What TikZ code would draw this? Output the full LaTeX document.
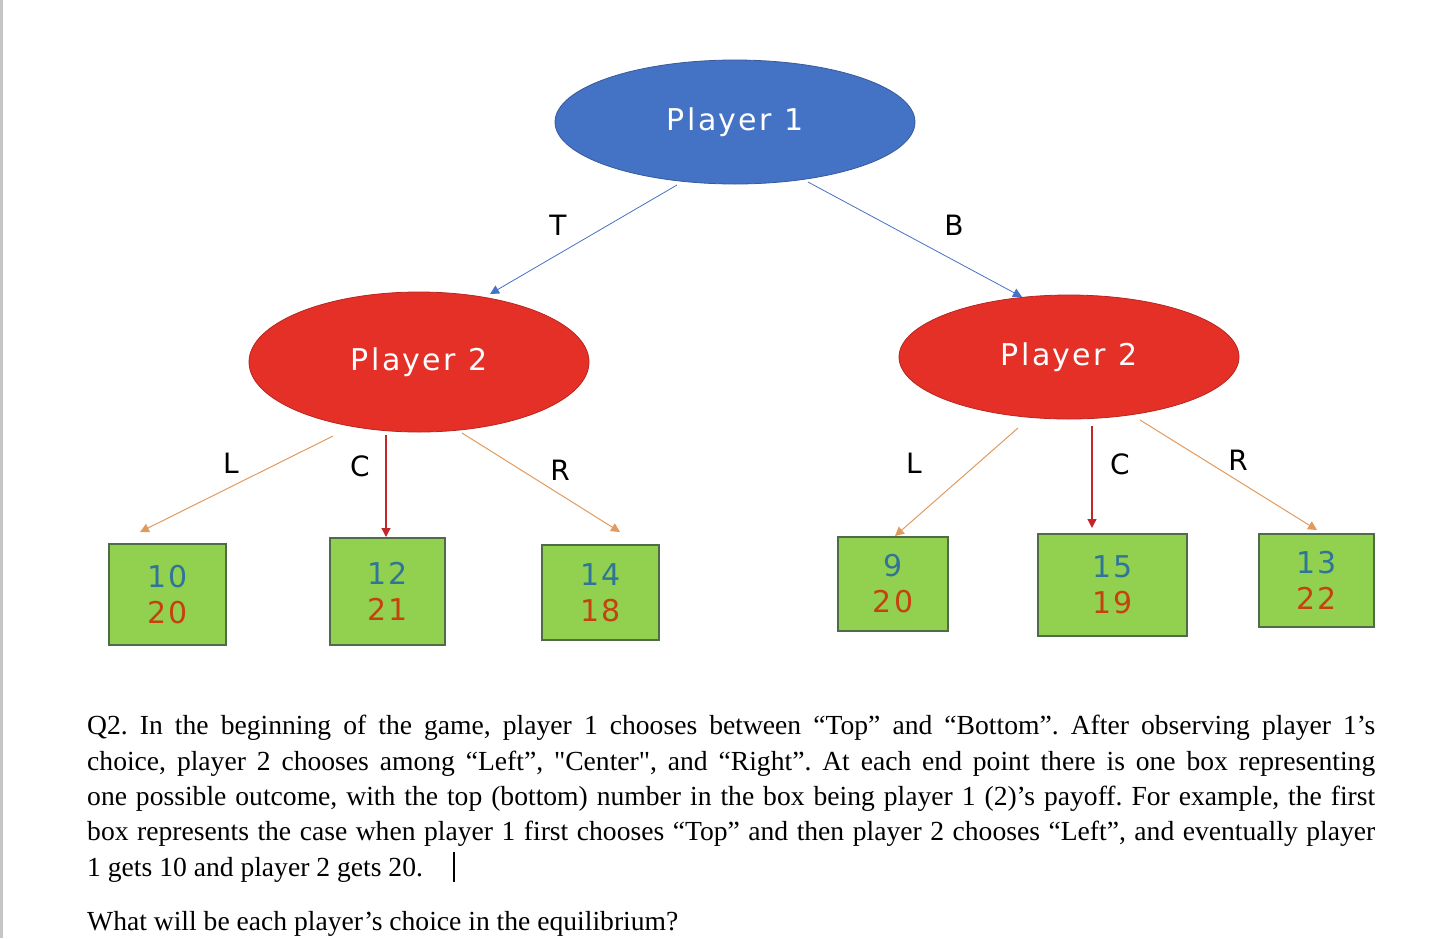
\documentclass[tikz,border=0pt]{standalone}
\usepackage{fontspec}
\setmainfont{Liberation Serif}
\newfontfamily\lab[LetterSpace=8]{DejaVu Sans}
\usetikzlibrary{shapes.geometric,arrows.meta}
\definecolor{pblue}{HTML}{4472C4}
\definecolor{pred}{HTML}{E53027}
\definecolor{bgreen}{HTML}{92D050}
\definecolor{bedge}{HTML}{4F6B48}
\definecolor{ntop}{HTML}{2F7597}
\definecolor{nbot}{HTML}{C5420F}
\definecolor{aor}{HTML}{E09A5E}
\definecolor{adred}{HTML}{C0262A}
\begin{document}
\frenchspacing
\begin{tikzpicture}[x=1pt,y=-1pt,
  pnode/.style={ellipse,draw=#1!80!black,line width=0.8pt,fill=#1,text=white,font=\lab\fontsize{30}{30}\selectfont},
  pay/.style={draw=bedge,line width=1.5pt,fill=bgreen,inner sep=0pt,font=\lab\fontsize{30}{40}\selectfont,align=center},
  ar/.style={-{Triangle[length=9pt,width=9pt]},line width=1pt,draw=#1},
  lb/.style={font=\lab\fontsize{28}{28}\selectfont},
  tx/.style={anchor=base west,inner sep=0pt,font=\fontsize{27.6}{30}\selectfont}]
\useasboundingbox (0,0) rectangle (1456,938);
\fill[gray!45] (0,0) rectangle (2.5,938);
\node[pnode=pblue,minimum width=360pt,minimum height=124pt] (p1) at (735,122) {Player 1};
\node[pnode=pred,minimum width=340pt,minimum height=140pt] (p2l) at (419,362) {Player 2};
\node[pnode=pred,minimum width=340pt,minimum height=124pt] (p2r) at (1069,357) {Player 2};
\node[pay,minimum width=117pt,minimum height=101pt] (b1) at (167.5,594.5) {\textcolor{ntop}{10}\\[-4pt]\textcolor{nbot}{20}};
\node[pay,minimum width=115pt,minimum height=107pt] (b2) at (387.5,591.5) {\textcolor{ntop}{12}\\[-4pt]\textcolor{nbot}{21}};
\node[pay,minimum width=117pt,minimum height=95pt] (b3) at (600.5,592.5) {\textcolor{ntop}{14}\\[-4pt]\textcolor{nbot}{18}};
\node[pay,minimum width=110pt,minimum height=94pt] (b4) at (893,584) {\textcolor{ntop}{9}\\[-4pt]\textcolor{nbot}{20}};
\node[pay,minimum width=149pt,minimum height=102pt] (b5) at (1112.5,585) {\textcolor{ntop}{15}\\[-4pt]\textcolor{nbot}{19}};
\node[pay,minimum width=115pt,minimum height=93pt] (b6) at (1316.5,580.5) {\textcolor{ntop}{13}\\[-4pt]\textcolor{nbot}{22}};
\coordinate (st1) at (677,185); \coordinate (st2) at (808,182);
\coordinate (sl1) at (333,436); \coordinate (sl2) at (386,435); \coordinate (sl3) at (462,433);
\coordinate (sr1) at (1018,428); \coordinate (sr2) at (1092,426); \coordinate (sr3) at (1140,420);
\coordinate (t1) at (490,294); \coordinate (t2) at (1022,297);
\coordinate (l1) at (140,532); \coordinate (l2) at (386,537); \coordinate (l3) at (620,532);
\coordinate (r1) at (895,536); \coordinate (r2) at (1092,528); \coordinate (r3) at (1317,530);
\draw[ar=pblue,line width=0.8pt] (st1) -- (t1);
\draw[ar=pblue,line width=0.8pt] (st2) -- (t2);
\draw[ar=aor] (sl1) -- (l1);
\draw[ar=adred,line width=1.3pt] (sl2) -- (l2);
\draw[ar=aor] (sl3) -- (l3);
\draw[ar=aor] (sr1) -- (r1);
\draw[ar=adred,line width=1.3pt] (sr2) -- (r2);
\draw[ar=aor] (sr3) -- (r3);
\node[lb] (lT) at (558,225) {T};
\node[lb] (lB) at (954,225) {B};
\node[lb] (lL1) at (231,463) {L};
\node[lb] (lC1) at (360,466) {C};
\node[lb] (lR1) at (560,470) {R};
\node[lb] (lL2) at (914,463) {L};
\node[lb] (lC2) at (1120,464) {C};
\node[lb] (lR2) at (1238,460) {R};
\node[tx] (q1) at (87,734) {\makebox[1288pt][s]{Q2. In the beginning of the game, player 1 chooses between “Top” and “Bottom”. After observing player 1’s}};
\node[tx] (q2) at (87,770) {\makebox[1288pt][s]{choice, player 2 chooses among “Left”, \textquotedbl Center\textquotedbl, and “Right”. At each end point there is one box representing}};
\node[tx] (q3) at (87,805) {\makebox[1288pt][s]{one possible outcome, with the top (bottom) number in the box being player 1 (2)’s payoff. For example, the first}};
\node[tx] (q4) at (87,840) {\makebox[1288pt][s]{box represents the case when player 1 first chooses “Top” and then player 2 chooses “Left”, and eventually player}};
\node[tx] (q5) at (87,876) {1 gets 10 and player 2 gets 20.};
\draw[line width=1.3pt] (454,852) -- (454,882);
\node[tx] (q6) at (87,930) {What will be each player’s choice in the equilibrium?};
\end{tikzpicture}
\end{document}
